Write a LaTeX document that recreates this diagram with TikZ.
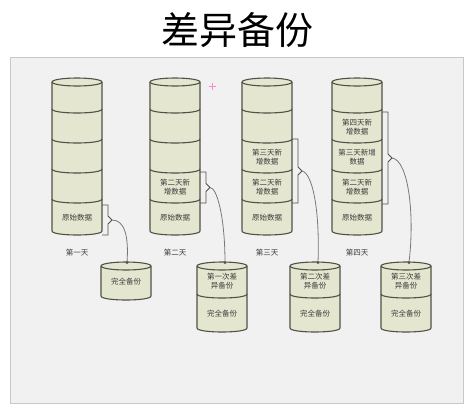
\documentclass[tikz,border=0pt]{standalone}
\usepackage{fontspec}
\usetikzlibrary{calc}
\newfontfamily\cjk{Noto Sans CJK SC}
\definecolor{cylfillc}{RGB}{228,230,207}
\definecolor{cyllinec}{RGB}{80,82,72}
\definecolor{framebg}{RGB}{241,241,241}
\definecolor{frameln}{RGB}{200,200,200}
\definecolor{txtc}{RGB}{60,60,60}
\definecolor{linkc}{RGB}{120,120,120}
\tikzset{
  cylfill/.style={fill=cylfillc},
  cylline/.style={draw=cyllinec, line width=1.1pt},
  segtext/.style={font=\cjk\fontsize{7.5}{9.5}\selectfont, text=txtc, align=center, inner sep=0pt},
  daytext/.style={font=\cjk\fontsize{7.5}{9}\selectfont, text=txtc, inner sep=0pt},
  bracket/.style={draw=cyllinec, line width=0.8pt, line join=round},
  link/.style={draw=linkc, line width=0.8pt},
  enddot/.style={fill=cyllinec}
}
% #1 left x, #2 top ellipse centre y, #3 bottom lowest y, #4 divider lowest y list
\newcommand\mycyl[4]{%
  \fill[cylfill] (#1,#2) -- (#1,#3-4) .. controls (#1,#3+1.33) and (#1+50,#3+1.33) .. (#1+50,#3-4) -- (#1+50,#2) -- cycle;
  \if\relax\detokenize{#4}\relax\else
  \foreach \dd in {#4} {\draw[cylline] (#1,\dd-4) .. controls (#1,\dd+1.33) and (#1+50,\dd+1.33) .. (#1+50,\dd-4);}
  \fi
  \draw[cylline] (#1,#2) -- (#1,#3-4) .. controls (#1,#3+1.33) and (#1+50,#3+1.33) .. (#1+50,#3-4) -- (#1+50,#2);
  \draw[cylline, fill=cylfillc] (#1+25,#2) ellipse [x radius=25, y radius=4];
}
% #1 x of cylinder right side, #2 top y, #3 bottom y, #4 name of tip
\newcommand\mybracket[4]{%
  \draw[bracket] (#1,#2) -- (#1+6,#2) -- (#1+6,{(#2+#3)/2-4}) -- (#1+10,{(#2+#3)/2}) -- (#1+6,{(#2+#3)/2+4}) -- (#1+6,#3) -- (#1,#3);
  \coordinate (#4) at (#1+10,{(#2+#3)/2});
}
\begin{document}
\begin{tikzpicture}[x=1pt,y=-1pt]
\useasboundingbox (0,0) rectangle (474,410);
\fill[white] (0,0) rectangle (474,410);
% title
\node[font=\cjk\fontsize{38}{40}\selectfont, inner sep=0pt] (title) at (237,30) {差异备份};
% frame
\draw[frameln, fill=framebg, line width=1pt] (10,57) rectangle (463,403);
% pink cursor mark
\draw[magenta!45, line width=0.8pt] (208.5,86) -- (215.5,86) (212,82.5) -- (212,89.5);

% day stacks
\mycyl{52}{82}{235}{113,143,173,203}
\mycyl{150}{82}{235}{113,143,173,203}
\mycyl{242}{82}{235}{113,143,173,203}
\mycyl{332}{82}{235}{113,143,173,203}

\node[segtext] (d1a) at (77,218) {原始数据};
\node[segtext] (d2a) at (175,218) {原始数据};
\node[segtext] (d2b) at (175,187) {第二天新\\增数据};
\node[segtext] (d3a) at (267,218) {原始数据};
\node[segtext] (d3b) at (267,187) {第二天新\\增数据};
\node[segtext] (d3c) at (267,157) {第三天新\\增数据};
\node[segtext] (d4a) at (357,218) {原始数据};
\node[segtext] (d4b) at (357,187) {第二天新\\增数据};
\node[segtext] (d4c) at (357,157) {第三天新增\\数据};
\node[segtext] (d4d) at (357,127) {第四天新\\增数据};

\node[daytext] (day1) at (77,253) {第一天};
\node[daytext] (day2) at (175,253) {第二天};
\node[daytext] (day3) at (267,253) {第三天};
\node[daytext] (day4) at (357,253) {第四天};

% backup cylinders
\mycyl{101}{266}{300}{}
\mycyl{197}{266}{332}{298}
\mycyl{290}{266}{332}{298}
\mycyl{381}{266}{332}{298}

\node[segtext] (b1a) at (126,282) {完全备份};
\node[segtext] (b2b) at (222,281) {第一次差\\异备份};
\node[segtext] (b2a) at (222,314) {完全备份};
\node[segtext] (b3b) at (315,281) {第二次差\\异备份};
\node[segtext] (b3a) at (315,314) {完全备份};
\node[segtext] (b4b) at (406,281) {第三次差\\异备份};
\node[segtext] (b4a) at (406,314) {完全备份};

\coordinate (t1) at (127,262.5);
\coordinate (t2) at (225,262.5);
\coordinate (t3) at (318,262.5);
\coordinate (t4) at (409,262.5);

% brackets
\mybracket{102}{205}{235}{k1}
\mybracket{200}{172}{203}{k2}
\mybracket{292}{139}{203}{k3}
\mybracket{382}{112}{204}{k4}

% links
\draw[link] (k1) .. controls ($(k1)+(12,0)$) and ($(t1)+(2,-28)$) .. (t1);
\draw[link] (k2) .. controls ($(k2)+(7,0)$) and ($(t2)+(0,-45)$) .. (t2);
\draw[link] (k3) .. controls ($(k3)+(10,2)$) and ($(t3)+(2,-55)$) .. (t3);
\draw[link] (k4) .. controls ($(k4)+(16,2)$) and ($(t4)+(6,-50)$) .. (t4);
\fill[enddot] (t1) circle (1.5) (t2) circle (1.5) (t3) circle (1.5) (t4) circle (1.5);
\end{tikzpicture}
\end{document}
